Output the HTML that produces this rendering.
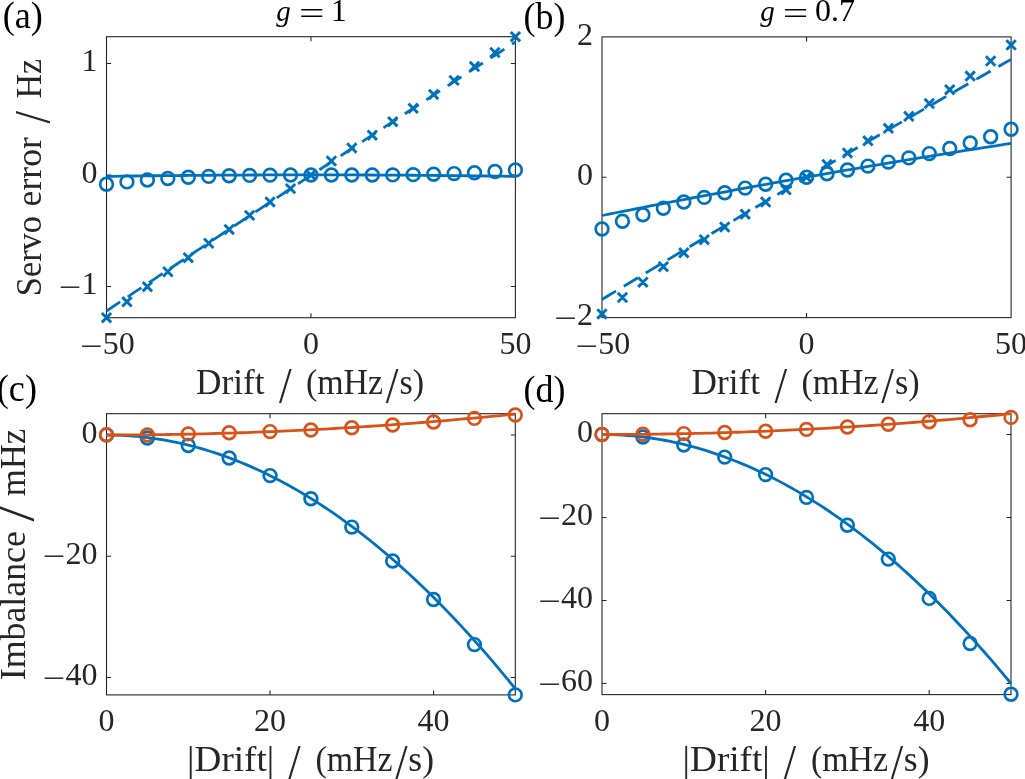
<!DOCTYPE html>
<html><head><meta charset="utf-8"><title>Servo error and imbalance vs drift</title>
<style>
html,body{margin:0;padding:0;background:#fff;width:1025px;height:779px;overflow:hidden}
svg{display:block}
text{font-family:"Liberation Serif","DejaVu Serif",serif;fill:#000}
.t{font-size:32px;fill:#262626}
.l{font-size:35px;fill:#262626}
.k{fill:#000}
.p{font-size:37.8px}
.g{font-size:29px;font-style:italic}
.e{font-size:32.5px}
</style></head><body>
<svg width="1025" height="779" viewBox="0 0 1025 779">
<rect width="1025" height="779" fill="#fff"/>
<rect x="106.5" y="36.7" width="408.9" height="281" fill="none" stroke="#262626" stroke-width="1.1"/>
<path d="M310.95,317.7V313.2M310.95,36.7V41.2M106.5,63.5H111M515.4,63.5H510.9M106.5,175H111M515.4,175H510.9M106.5,286.5H111M515.4,286.5H510.9" fill="none" stroke="#262626" stroke-width="1.1"/>
<rect x="602" y="36.9" width="409.1" height="280.7" fill="none" stroke="#262626" stroke-width="1.1"/>
<path d="M806.55,317.6V313.1M806.55,36.9V41.4M602,177.25H606.5M1011.1,177.25H1006.6" fill="none" stroke="#262626" stroke-width="1.1"/>
<rect x="106.5" y="413.7" width="408.8" height="281.2" fill="none" stroke="#262626" stroke-width="1.1"/>
<path d="M270.02,694.9V690.4M270.02,413.7V418.2M433.54,694.9V690.4M433.54,413.7V418.2M106.5,435H111M515.3,435H510.8M106.5,556.2H111M515.3,556.2H510.8M106.5,677.5H111M515.3,677.5H510.8" fill="none" stroke="#262626" stroke-width="1.1"/>
<rect x="602" y="413.7" width="409" height="280.9" fill="none" stroke="#262626" stroke-width="1.1"/>
<path d="M765.6,694.6V690.1M765.6,413.7V418.2M929.2,694.6V690.1M929.2,413.7V418.2M602,434.5H606.5M1011,434.5H1006.5M602,517.5H606.5M1011,517.5H1006.5M602,600.5H606.5M1011,600.5H1006.5M602,683.5H606.5M1011,683.5H1006.5" fill="none" stroke="#262626" stroke-width="1.1"/>
<path d="M106.5,176.4 L113.43,176.3 L120.36,176.2 L127.29,176.11 L134.22,176.02 L141.15,175.93 L148.08,175.85 L155.01,175.77 L161.94,175.7 L168.87,175.62 L175.81,175.56 L182.74,175.49 L189.67,175.43 L196.6,175.37 L203.53,175.31 L210.46,175.26 L217.39,175.21 L224.32,175.17 L231.25,175.13 L238.18,175.09 L245.11,175.06 L252.04,175.02 L258.97,175 L265.9,174.97 L272.83,174.95 L279.76,174.93 L286.69,174.92 L293.62,174.91 L300.55,174.9 L307.48,174.9 L314.42,174.9 L321.35,174.9 L328.28,174.91 L335.21,174.92 L342.14,174.93 L349.07,174.95 L356,174.97 L362.93,175 L369.86,175.02 L376.79,175.06 L383.72,175.09 L390.65,175.13 L397.58,175.17 L404.51,175.21 L411.44,175.26 L418.37,175.31 L425.3,175.37 L432.23,175.43 L439.16,175.49 L446.09,175.56 L453.03,175.62 L459.96,175.7 L466.89,175.77 L473.82,175.85 L480.75,175.93 L487.68,176.02 L494.61,176.11 L501.54,176.2 L508.47,176.3 L515.4,176.4" fill="none" stroke="#0072BD" stroke-width="2.8"/>
<path d="M106.5,311 L113.43,306.36 L120.36,301.72 L127.29,297.09 L134.22,292.46 L141.15,287.83 L148.08,283.21 L155.01,278.58 L161.94,273.96 L168.87,269.35 L175.81,264.73 L182.74,260.12 L189.67,255.51 L196.6,250.9 L203.53,246.3 L210.46,241.7 L217.39,237.1 L224.32,232.51 L231.25,227.91 L238.18,223.32 L245.11,218.74 L252.04,214.15 L258.97,209.57 L265.9,204.99 L272.83,200.42 L279.76,195.84 L286.69,191.27 L293.62,186.71 L300.55,182.14 L307.48,177.58 L314.42,173.02 L321.35,168.46 L328.28,163.91 L335.21,159.36 L342.14,154.81 L349.07,150.27 L356,145.72 L362.93,141.18 L369.86,136.65 L376.79,132.11 L383.72,127.58 L390.65,123.05 L397.58,118.52 L404.51,114 L411.44,109.48 L418.37,104.96 L425.3,100.45 L432.23,95.93 L439.16,91.42 L446.09,86.92 L453.03,82.41 L459.96,77.91 L466.89,73.41 L473.82,68.92 L480.75,64.42 L487.68,59.93 L494.61,55.45 L501.54,50.96 L508.47,46.48 L515.4,42" fill="none" stroke="#0072BD" stroke-width="2.8" stroke-dasharray="16.4,9.15"/>
<circle cx="106.5" cy="184.2" r="6.35" fill="none" stroke="#0072BD" stroke-width="2.7"/>
<circle cx="126.94" cy="181.88" r="6.35" fill="none" stroke="#0072BD" stroke-width="2.7"/>
<circle cx="147.39" cy="179.98" r="6.35" fill="none" stroke="#0072BD" stroke-width="2.7"/>
<circle cx="167.84" cy="178.46" r="6.35" fill="none" stroke="#0072BD" stroke-width="2.7"/>
<circle cx="188.28" cy="177.29" r="6.35" fill="none" stroke="#0072BD" stroke-width="2.7"/>
<circle cx="208.72" cy="176.41" r="6.35" fill="none" stroke="#0072BD" stroke-width="2.7"/>
<circle cx="229.17" cy="175.79" r="6.35" fill="none" stroke="#0072BD" stroke-width="2.7"/>
<circle cx="249.62" cy="175.38" r="6.35" fill="none" stroke="#0072BD" stroke-width="2.7"/>
<circle cx="270.06" cy="175.14" r="6.35" fill="none" stroke="#0072BD" stroke-width="2.7"/>
<circle cx="290.5" cy="175.03" r="6.35" fill="none" stroke="#0072BD" stroke-width="2.7"/>
<circle cx="310.95" cy="175" r="6.35" fill="none" stroke="#0072BD" stroke-width="2.7"/>
<circle cx="331.39" cy="175.01" r="6.35" fill="none" stroke="#0072BD" stroke-width="2.7"/>
<circle cx="351.84" cy="175.03" r="6.35" fill="none" stroke="#0072BD" stroke-width="2.7"/>
<circle cx="372.29" cy="175" r="6.35" fill="none" stroke="#0072BD" stroke-width="2.7"/>
<circle cx="392.73" cy="174.88" r="6.35" fill="none" stroke="#0072BD" stroke-width="2.7"/>
<circle cx="413.18" cy="174.64" r="6.35" fill="none" stroke="#0072BD" stroke-width="2.7"/>
<circle cx="433.62" cy="174.22" r="6.35" fill="none" stroke="#0072BD" stroke-width="2.7"/>
<circle cx="454.06" cy="173.59" r="6.35" fill="none" stroke="#0072BD" stroke-width="2.7"/>
<circle cx="474.51" cy="172.71" r="6.35" fill="none" stroke="#0072BD" stroke-width="2.7"/>
<circle cx="494.95" cy="171.53" r="6.35" fill="none" stroke="#0072BD" stroke-width="2.7"/>
<circle cx="515.4" cy="170" r="6.35" fill="none" stroke="#0072BD" stroke-width="2.7"/>
<path d="M101.8,313L111.2,322.4M101.8,322.4L111.2,313M122.24,297.1L131.64,306.5M122.24,306.5L131.64,297.1M142.69,282L152.09,291.4M142.69,291.4L152.09,282M163.14,267.1L172.53,276.5M163.14,276.5L172.53,267.1M183.58,253L192.98,262.4M183.58,262.4L192.98,253M204.03,238.6L213.42,248M204.03,248L213.42,238.6M224.47,224.7L233.87,234.1M224.47,234.1L233.87,224.7M244.92,210.7L254.31,220.1M244.92,220.1L254.31,210.7M265.36,197.2L274.76,206.6M265.36,206.6L274.76,197.2M285.81,183.9L295.2,193.3M285.81,193.3L295.2,183.9M306.25,170.3L315.65,179.7M306.25,179.7L315.65,170.3M326.69,156.3L336.09,165.7M326.69,165.7L336.09,156.3M347.14,143.3L356.54,152.7M347.14,152.7L356.54,143.3M367.59,130.5L376.99,139.9M367.59,139.9L376.99,130.5M388.03,117L397.43,126.4M388.03,126.4L397.43,117M408.48,103.6L417.88,113M408.48,113L417.88,103.6M428.92,89.7L438.32,99.1M428.92,99.1L438.32,89.7M449.37,75.7L458.76,85.1M449.37,85.1L458.76,75.7M469.81,61.8L479.21,71.2M469.81,71.2L479.21,61.8M490.25,47.8L499.65,57.2M490.25,57.2L499.65,47.8M510.7,32L520.1,41.4M510.7,41.4L520.1,32" fill="none" stroke="#0072BD" stroke-width="2.9"/>
<path d="M602,215.5 L608.93,214.12 L615.87,212.75 L622.8,211.38 L629.74,210.02 L636.67,208.66 L643.6,207.31 L650.54,205.96 L657.47,204.62 L664.41,203.29 L671.34,201.96 L678.27,200.63 L685.21,199.31 L692.14,198 L699.07,196.69 L706.01,195.39 L712.94,194.09 L719.88,192.8 L726.81,191.51 L733.74,190.23 L740.68,188.95 L747.61,187.68 L754.55,186.42 L761.48,185.16 L768.41,183.9 L775.35,182.65 L782.28,181.41 L789.22,180.17 L796.15,178.94 L803.08,177.71 L810.02,176.49 L816.95,175.27 L823.88,174.06 L830.82,172.86 L837.75,171.66 L844.69,170.46 L851.62,169.27 L858.55,168.09 L865.49,166.91 L872.42,165.73 L879.36,164.57 L886.29,163.4 L893.22,162.25 L900.16,161.09 L907.09,159.95 L914.03,158.81 L920.96,157.67 L927.89,156.54 L934.83,155.42 L941.76,154.3 L948.69,153.18 L955.63,152.07 L962.56,150.97 L969.5,149.87 L976.43,148.78 L983.36,147.69 L990.3,146.61 L997.23,145.54 L1004.17,144.47 L1011.1,143.4" fill="none" stroke="#0072BD" stroke-width="2.8"/>
<path d="M602,299.5 L608.93,295.29 L615.87,291.09 L622.8,286.9 L629.74,282.7 L636.67,278.52 L643.6,274.33 L650.54,270.16 L657.47,265.98 L664.41,261.81 L671.34,257.65 L678.27,253.49 L685.21,249.34 L692.14,245.19 L699.07,241.04 L706.01,236.9 L712.94,232.77 L719.88,228.64 L726.81,224.51 L733.74,220.39 L740.68,216.27 L747.61,212.16 L754.55,208.05 L761.48,203.95 L768.41,199.85 L775.35,195.76 L782.28,191.67 L789.22,187.59 L796.15,183.51 L803.08,179.44 L810.02,175.37 L816.95,171.3 L823.88,167.24 L830.82,163.19 L837.75,159.13 L844.69,155.09 L851.62,151.05 L858.55,147.01 L865.49,142.98 L872.42,138.95 L879.36,134.93 L886.29,130.91 L893.22,126.9 L900.16,122.89 L907.09,118.89 L914.03,114.89 L920.96,110.89 L927.89,106.91 L934.83,102.92 L941.76,98.94 L948.69,94.97 L955.63,90.99 L962.56,87.03 L969.5,83.07 L976.43,79.11 L983.36,75.16 L990.3,71.21 L997.23,67.27 L1004.17,63.33 L1011.1,59.4" fill="none" stroke="#0072BD" stroke-width="2.8" stroke-dasharray="16.4,9.15"/>
<circle cx="602" cy="229" r="6.35" fill="none" stroke="#0072BD" stroke-width="2.7"/>
<circle cx="622.46" cy="221.3" r="6.35" fill="none" stroke="#0072BD" stroke-width="2.7"/>
<circle cx="642.91" cy="214.7" r="6.35" fill="none" stroke="#0072BD" stroke-width="2.7"/>
<circle cx="663.37" cy="208.2" r="6.35" fill="none" stroke="#0072BD" stroke-width="2.7"/>
<circle cx="683.82" cy="202" r="6.35" fill="none" stroke="#0072BD" stroke-width="2.7"/>
<circle cx="704.27" cy="197.4" r="6.35" fill="none" stroke="#0072BD" stroke-width="2.7"/>
<circle cx="724.73" cy="192.8" r="6.35" fill="none" stroke="#0072BD" stroke-width="2.7"/>
<circle cx="745.18" cy="188.1" r="6.35" fill="none" stroke="#0072BD" stroke-width="2.7"/>
<circle cx="765.64" cy="184.2" r="6.35" fill="none" stroke="#0072BD" stroke-width="2.7"/>
<circle cx="786.1" cy="180.2" r="6.35" fill="none" stroke="#0072BD" stroke-width="2.7"/>
<circle cx="806.55" cy="177.2" r="6.35" fill="none" stroke="#0072BD" stroke-width="2.7"/>
<circle cx="827" cy="173.8" r="6.35" fill="none" stroke="#0072BD" stroke-width="2.7"/>
<circle cx="847.46" cy="170" r="6.35" fill="none" stroke="#0072BD" stroke-width="2.7"/>
<circle cx="867.91" cy="166.1" r="6.35" fill="none" stroke="#0072BD" stroke-width="2.7"/>
<circle cx="888.37" cy="162.1" r="6.35" fill="none" stroke="#0072BD" stroke-width="2.7"/>
<circle cx="908.83" cy="157.9" r="6.35" fill="none" stroke="#0072BD" stroke-width="2.7"/>
<circle cx="929.28" cy="153.6" r="6.35" fill="none" stroke="#0072BD" stroke-width="2.7"/>
<circle cx="949.74" cy="148.5" r="6.35" fill="none" stroke="#0072BD" stroke-width="2.7"/>
<circle cx="970.19" cy="143" r="6.35" fill="none" stroke="#0072BD" stroke-width="2.7"/>
<circle cx="990.64" cy="136.8" r="6.35" fill="none" stroke="#0072BD" stroke-width="2.7"/>
<circle cx="1011.1" cy="129.3" r="6.35" fill="none" stroke="#0072BD" stroke-width="2.7"/>
<path d="M597.3,309.2L606.7,318.6M597.3,318.6L606.7,309.2M617.75,292.8L627.16,302.2M617.75,302.2L627.16,292.8M638.21,277.5L647.61,286.9M638.21,286.9L647.61,277.5M658.66,262L668.07,271.4M658.66,271.4L668.07,262M679.12,248.1L688.52,257.5M679.12,257.5L688.52,248.1M699.57,235L708.98,244.4M699.57,244.4L708.98,235M720.03,222.3L729.43,231.7M720.03,231.7L729.43,222.3M740.48,209.5L749.88,218.9M740.48,218.9L749.88,209.5M760.94,197.3L770.34,206.7M760.94,206.7L770.34,197.3M781.39,185.1L790.8,194.5M781.39,194.5L790.8,185.1M801.85,172.5L811.25,181.9M801.85,181.9L811.25,172.5M822.3,159.8L831.71,169.2M822.3,169.2L831.71,159.8M842.76,148.2L852.16,157.6M842.76,157.6L852.16,148.2M863.21,136.1L872.62,145.5M863.21,145.5L872.62,136.1M883.67,123.6L893.07,133M883.67,133L893.07,123.6M904.12,111.6L913.53,121M904.12,121L913.53,111.6M924.58,98.8L933.98,108.2M924.58,108.2L933.98,98.8M945.03,85L954.44,94.4M945.03,94.4L954.44,85M965.49,71.4L974.89,80.8M965.49,80.8L974.89,71.4M985.94,56.3L995.35,65.7M985.94,65.7L995.35,56.3M1006.4,40.3L1015.8,49.7M1006.4,49.7L1015.8,40.3" fill="none" stroke="#0072BD" stroke-width="2.9"/>
<circle cx="106.5" cy="435" r="6.35" fill="none" stroke="#0072BD" stroke-width="2.7"/>
<circle cx="147.38" cy="438" r="6.35" fill="none" stroke="#0072BD" stroke-width="2.7"/>
<circle cx="188.26" cy="445.5" r="6.35" fill="none" stroke="#0072BD" stroke-width="2.7"/>
<circle cx="229.14" cy="458" r="6.35" fill="none" stroke="#0072BD" stroke-width="2.7"/>
<circle cx="270.02" cy="475.6" r="6.35" fill="none" stroke="#0072BD" stroke-width="2.7"/>
<circle cx="310.9" cy="498.7" r="6.35" fill="none" stroke="#0072BD" stroke-width="2.7"/>
<circle cx="351.78" cy="527.1" r="6.35" fill="none" stroke="#0072BD" stroke-width="2.7"/>
<circle cx="392.66" cy="561" r="6.35" fill="none" stroke="#0072BD" stroke-width="2.7"/>
<circle cx="433.54" cy="599.5" r="6.35" fill="none" stroke="#0072BD" stroke-width="2.7"/>
<circle cx="474.42" cy="644.6" r="6.35" fill="none" stroke="#0072BD" stroke-width="2.7"/>
<circle cx="515.3" cy="694.9" r="6.35" fill="none" stroke="#0072BD" stroke-width="2.7"/>
<circle cx="106.5" cy="434.8" r="6.35" fill="none" stroke="#D95319" stroke-width="2.7"/>
<circle cx="147.38" cy="435" r="6.35" fill="none" stroke="#D95319" stroke-width="2.7"/>
<circle cx="188.26" cy="433.9" r="6.35" fill="none" stroke="#D95319" stroke-width="2.7"/>
<circle cx="229.14" cy="432.8" r="6.35" fill="none" stroke="#D95319" stroke-width="2.7"/>
<circle cx="270.02" cy="431.6" r="6.35" fill="none" stroke="#D95319" stroke-width="2.7"/>
<circle cx="310.9" cy="430" r="6.35" fill="none" stroke="#D95319" stroke-width="2.7"/>
<circle cx="351.78" cy="427.7" r="6.35" fill="none" stroke="#D95319" stroke-width="2.7"/>
<circle cx="392.66" cy="425" r="6.35" fill="none" stroke="#D95319" stroke-width="2.7"/>
<circle cx="433.54" cy="422" r="6.35" fill="none" stroke="#D95319" stroke-width="2.7"/>
<circle cx="474.42" cy="418.4" r="6.35" fill="none" stroke="#D95319" stroke-width="2.7"/>
<circle cx="515.3" cy="415" r="6.35" fill="none" stroke="#D95319" stroke-width="2.7"/>
<path d="M106.5,435 L111.67,435.04 L116.85,435.16 L122.02,435.37 L127.2,435.65 L132.37,436.02 L137.55,436.46 L142.72,436.99 L147.9,437.6 L153.07,438.29 L158.25,439.07 L163.42,439.92 L168.6,440.85 L173.77,441.87 L178.95,442.97 L184.12,444.15 L189.29,445.41 L194.47,446.75 L199.64,448.17 L204.82,449.68 L209.99,451.26 L215.17,452.93 L220.34,454.68 L225.52,456.51 L230.69,458.42 L235.87,460.41 L241.04,462.49 L246.22,464.64 L251.39,466.88 L256.57,469.19 L261.74,471.59 L266.92,474.07 L272.09,476.63 L277.26,479.28 L282.44,482 L287.61,484.81 L292.79,487.69 L297.96,490.66 L303.14,493.71 L308.31,496.84 L313.49,500.05 L318.66,503.35 L323.84,506.72 L329.01,510.18 L334.19,513.71 L339.36,517.33 L344.54,521.03 L349.71,524.81 L354.88,528.68 L360.06,532.62 L365.23,536.65 L370.41,540.75 L375.58,544.94 L380.76,549.21 L385.93,553.56 L391.11,557.99 L396.28,562.51 L401.46,567.1 L406.63,571.78 L411.81,576.53 L416.98,581.37 L422.16,586.29 L427.33,591.29 L432.51,596.37 L437.68,601.54 L442.85,606.78 L448.03,612.11 L453.2,617.52 L458.38,623.01 L463.55,628.58 L468.73,634.23 L473.9,639.96 L479.08,645.77 L484.25,651.67 L489.43,657.65 L494.6,663.7 L499.78,669.84 L504.95,676.06 L510.13,682.37 L515.3,688.75" fill="none" stroke="#0072BD" stroke-width="2.8"/>
<path d="M106.5,435 L111.67,435 L116.85,434.99 L122.02,434.97 L127.2,434.95 L132.37,434.92 L137.55,434.88 L142.72,434.84 L147.9,434.78 L153.07,434.73 L158.25,434.66 L163.42,434.59 L168.6,434.52 L173.77,434.43 L178.95,434.34 L184.12,434.24 L189.29,434.14 L194.47,434.03 L199.64,433.91 L204.82,433.79 L209.99,433.65 L215.17,433.52 L220.34,433.37 L225.52,433.22 L230.69,433.06 L235.87,432.9 L241.04,432.73 L246.22,432.55 L251.39,432.36 L256.57,432.17 L261.74,431.97 L266.92,431.77 L272.09,431.55 L277.26,431.34 L282.44,431.11 L287.61,430.88 L292.79,430.64 L297.96,430.39 L303.14,430.14 L308.31,429.88 L313.49,429.62 L318.66,429.34 L323.84,429.06 L329.01,428.78 L334.19,428.49 L339.36,428.19 L344.54,427.88 L349.71,427.57 L354.88,427.25 L360.06,426.92 L365.23,426.59 L370.41,426.25 L375.58,425.9 L380.76,425.55 L385.93,425.19 L391.11,424.82 L396.28,424.45 L401.46,424.07 L406.63,423.68 L411.81,423.29 L416.98,422.89 L422.16,422.48 L427.33,422.07 L432.51,421.64 L437.68,421.22 L442.85,420.78 L448.03,420.34 L453.2,419.9 L458.38,419.44 L463.55,418.98 L468.73,418.51 L473.9,418.04 L479.08,417.56 L484.25,417.07 L489.43,416.57 L494.6,416.07 L499.78,415.56 L504.95,415.05 L510.13,414.53 L515.3,414" fill="none" stroke="#D95319" stroke-width="2.8"/>
<circle cx="602" cy="434.5" r="6.35" fill="none" stroke="#0072BD" stroke-width="2.7"/>
<circle cx="642.9" cy="437" r="6.35" fill="none" stroke="#0072BD" stroke-width="2.7"/>
<circle cx="683.8" cy="445" r="6.35" fill="none" stroke="#0072BD" stroke-width="2.7"/>
<circle cx="724.7" cy="457.1" r="6.35" fill="none" stroke="#0072BD" stroke-width="2.7"/>
<circle cx="765.6" cy="474.6" r="6.35" fill="none" stroke="#0072BD" stroke-width="2.7"/>
<circle cx="806.5" cy="497.4" r="6.35" fill="none" stroke="#0072BD" stroke-width="2.7"/>
<circle cx="847.4" cy="525.2" r="6.35" fill="none" stroke="#0072BD" stroke-width="2.7"/>
<circle cx="888.3" cy="559.1" r="6.35" fill="none" stroke="#0072BD" stroke-width="2.7"/>
<circle cx="929.2" cy="598.4" r="6.35" fill="none" stroke="#0072BD" stroke-width="2.7"/>
<circle cx="970.1" cy="643.5" r="6.35" fill="none" stroke="#0072BD" stroke-width="2.7"/>
<circle cx="1011" cy="694.3" r="6.35" fill="none" stroke="#0072BD" stroke-width="2.7"/>
<circle cx="602" cy="434.5" r="6.35" fill="none" stroke="#D95319" stroke-width="2.7"/>
<circle cx="642.9" cy="434.2" r="6.35" fill="none" stroke="#D95319" stroke-width="2.7"/>
<circle cx="683.8" cy="433.6" r="6.35" fill="none" stroke="#D95319" stroke-width="2.7"/>
<circle cx="724.7" cy="432.5" r="6.35" fill="none" stroke="#D95319" stroke-width="2.7"/>
<circle cx="765.6" cy="431.2" r="6.35" fill="none" stroke="#D95319" stroke-width="2.7"/>
<circle cx="806.5" cy="429.4" r="6.35" fill="none" stroke="#D95319" stroke-width="2.7"/>
<circle cx="847.4" cy="427" r="6.35" fill="none" stroke="#D95319" stroke-width="2.7"/>
<circle cx="888.3" cy="424.3" r="6.35" fill="none" stroke="#D95319" stroke-width="2.7"/>
<circle cx="929.2" cy="421.8" r="6.35" fill="none" stroke="#D95319" stroke-width="2.7"/>
<circle cx="970.1" cy="419.8" r="6.35" fill="none" stroke="#D95319" stroke-width="2.7"/>
<circle cx="1011" cy="417.4" r="6.35" fill="none" stroke="#D95319" stroke-width="2.7"/>
<path d="M602,434.5 L607.18,434.54 L612.35,434.66 L617.53,434.86 L622.71,435.14 L627.89,435.5 L633.06,435.94 L638.24,436.45 L643.42,437.05 L648.59,437.73 L653.77,438.49 L658.95,439.33 L664.13,440.25 L669.3,441.24 L674.48,442.32 L679.66,443.48 L684.84,444.71 L690.01,446.03 L695.19,447.43 L700.37,448.9 L705.54,450.46 L710.72,452.09 L715.9,453.81 L721.08,455.61 L726.25,457.48 L731.43,459.44 L736.61,461.47 L741.78,463.59 L746.96,465.78 L752.14,468.05 L757.32,470.41 L762.49,472.84 L767.67,475.35 L772.85,477.95 L778.03,480.62 L783.2,483.37 L788.38,486.21 L793.56,489.12 L798.73,492.11 L803.91,495.18 L809.09,498.34 L814.27,501.57 L819.44,504.88 L824.62,508.27 L829.8,511.74 L834.97,515.29 L840.15,518.92 L845.33,522.63 L850.51,526.42 L855.68,530.29 L860.86,534.24 L866.04,538.27 L871.22,542.38 L876.39,546.57 L881.57,550.84 L886.75,555.19 L891.92,559.62 L897.1,564.13 L902.28,568.72 L907.46,573.38 L912.63,578.13 L917.81,582.96 L922.99,587.87 L928.16,592.85 L933.34,597.92 L938.52,603.07 L943.7,608.29 L948.87,613.6 L954.05,618.99 L959.23,624.45 L964.41,630 L969.58,635.62 L974.76,641.33 L979.94,647.11 L985.11,652.98 L990.29,658.92 L995.47,664.95 L1000.65,671.05 L1005.82,677.24 L1011,683.5" fill="none" stroke="#0072BD" stroke-width="2.8"/>
<path d="M602,434.5 L607.18,434.5 L612.35,434.49 L617.53,434.47 L622.71,434.45 L627.89,434.42 L633.06,434.38 L638.24,434.34 L643.42,434.29 L648.59,434.23 L653.77,434.17 L658.95,434.1 L664.13,434.02 L669.3,433.94 L674.48,433.85 L679.66,433.75 L684.84,433.65 L690.01,433.54 L695.19,433.42 L700.37,433.3 L705.54,433.17 L710.72,433.03 L715.9,432.89 L721.08,432.74 L726.25,432.58 L731.43,432.42 L736.61,432.25 L741.78,432.07 L746.96,431.89 L752.14,431.7 L757.32,431.5 L762.49,431.3 L767.67,431.09 L772.85,430.87 L778.03,430.65 L783.2,430.42 L788.38,430.18 L793.56,429.94 L798.73,429.69 L803.91,429.43 L809.09,429.17 L814.27,428.9 L819.44,428.62 L824.62,428.34 L829.8,428.05 L834.97,427.75 L840.15,427.45 L845.33,427.14 L850.51,426.82 L855.68,426.5 L860.86,426.17 L866.04,425.83 L871.22,425.49 L876.39,425.14 L881.57,424.78 L886.75,424.42 L891.92,424.05 L897.1,423.67 L902.28,423.29 L907.46,422.9 L912.63,422.5 L917.81,422.1 L922.99,421.69 L928.16,421.27 L933.34,420.85 L938.52,420.42 L943.7,419.98 L948.87,419.54 L954.05,419.09 L959.23,418.63 L964.41,418.17 L969.58,417.7 L974.76,417.22 L979.94,416.74 L985.11,416.25 L990.29,415.75 L995.47,415.25 L1000.65,414.74 L1005.82,414.22 L1011,413.7" fill="none" stroke="#D95319" stroke-width="2.8"/>
<text x="97.5" y="71.1" text-anchor="end" class="t">1</text>
<text x="97.5" y="182.6" text-anchor="end" class="t">0</text>
<text x="97.5" y="294.1" text-anchor="end" class="t"><tspan font-size="30" dy="2.4" textLength="22.6" lengthAdjust="spacingAndGlyphs">−</tspan><tspan dy="-2.4">1</tspan></text>
<text x="107.5" y="353.9" text-anchor="middle" class="t"><tspan font-size="30" dy="2.4" textLength="22.6" lengthAdjust="spacingAndGlyphs">−</tspan><tspan dy="-2.4">50</tspan></text>
<text x="310.95" y="353.9" text-anchor="middle" class="t">0</text>
<text x="515.4" y="353.9" text-anchor="middle" class="t">50</text>
<text x="593" y="44.5" text-anchor="end" class="t">2</text>
<text x="593" y="184.85" text-anchor="end" class="t">0</text>
<text x="593" y="325.2" text-anchor="end" class="t"><tspan font-size="30" dy="2.4" textLength="22.6" lengthAdjust="spacingAndGlyphs">−</tspan><tspan dy="-2.4">2</tspan></text>
<text x="603" y="353.8" text-anchor="middle" class="t"><tspan font-size="30" dy="2.4" textLength="22.6" lengthAdjust="spacingAndGlyphs">−</tspan><tspan dy="-2.4">50</tspan></text>
<text x="806.55" y="353.8" text-anchor="middle" class="t">0</text>
<text x="1011.1" y="353.8" text-anchor="middle" class="t">50</text>
<text x="97.5" y="442.6" text-anchor="end" class="t">0</text>
<text x="97.5" y="563.8" text-anchor="end" class="t"><tspan font-size="30" dy="2.4" textLength="22.6" lengthAdjust="spacingAndGlyphs">−</tspan><tspan dy="-2.4">20</tspan></text>
<text x="97.5" y="685.1" text-anchor="end" class="t"><tspan font-size="30" dy="2.4" textLength="22.6" lengthAdjust="spacingAndGlyphs">−</tspan><tspan dy="-2.4">40</tspan></text>
<text x="106.5" y="731.1" text-anchor="middle" class="t">0</text>
<text x="270.02" y="731.1" text-anchor="middle" class="t">20</text>
<text x="433.54" y="731.1" text-anchor="middle" class="t">40</text>
<text x="593" y="442.1" text-anchor="end" class="t">0</text>
<text x="593" y="525.1" text-anchor="end" class="t"><tspan font-size="30" dy="2.4" textLength="22.6" lengthAdjust="spacingAndGlyphs">−</tspan><tspan dy="-2.4">20</tspan></text>
<text x="593" y="608.1" text-anchor="end" class="t"><tspan font-size="30" dy="2.4" textLength="22.6" lengthAdjust="spacingAndGlyphs">−</tspan><tspan dy="-2.4">40</tspan></text>
<text x="593" y="691.1" text-anchor="end" class="t"><tspan font-size="30" dy="2.4" textLength="22.6" lengthAdjust="spacingAndGlyphs">−</tspan><tspan dy="-2.4">60</tspan></text>
<text x="602" y="730.8" text-anchor="middle" class="t">0</text>
<text x="765.6" y="730.8" text-anchor="middle" class="t">20</text>
<text x="929.2" y="730.8" text-anchor="middle" class="t">40</text>
<text x="2.7" y="27.8" class="p" textLength="40.1" lengthAdjust="spacingAndGlyphs">(a)</text>
<text x="523.5" y="29.1" class="p" textLength="41.9" lengthAdjust="spacingAndGlyphs">(b)</text>
<text x="-3.2" y="401.3" class="p" textLength="40.1" lengthAdjust="spacingAndGlyphs">(c)</text>
<text x="523.5" y="402.1" class="p" textLength="41.9" lengthAdjust="spacingAndGlyphs">(d)</text>
<text x="276.2" y="20.6" class="g">g</text>
<text x="298.9" y="24.3" class="e" textLength="25.6" lengthAdjust="spacingAndGlyphs">=</text>
<text x="330.8" y="21" class="t k">1</text>
<text x="760.3" y="20.6" class="g">g</text>
<text x="782.8" y="24.3" class="e" textLength="25.6" lengthAdjust="spacingAndGlyphs">=</text>
<text x="814.9" y="21" class="t k">0.7</text>
<text class="l"><tspan x="196.14" y="393.7" textLength="68.39" lengthAdjust="spacingAndGlyphs">Drift</tspan> <tspan x="279" y="402" font-size="50" textLength="12.61" lengthAdjust="spacingAndGlyphs">/</tspan> <tspan x="305.94" y="393.7" textLength="77.17" lengthAdjust="spacingAndGlyphs">(mHz</tspan><tspan x="385.8" y="402" font-size="50" textLength="12.71" lengthAdjust="spacingAndGlyphs">/</tspan><tspan x="399.54" y="393.7" textLength="24.6" lengthAdjust="spacingAndGlyphs">s)</tspan></text>
<text class="l"><tspan x="187.13" y="770.5" textLength="87.14" lengthAdjust="spacingAndGlyphs">|Drift|</tspan> <tspan x="288" y="778.8" font-size="50" textLength="12.61" lengthAdjust="spacingAndGlyphs">/</tspan> <tspan x="315.44" y="770.5" textLength="77.17" lengthAdjust="spacingAndGlyphs">(mHz</tspan><tspan x="395.1" y="778.8" font-size="50" textLength="12.61" lengthAdjust="spacingAndGlyphs">/</tspan><tspan x="408.38" y="770.5" textLength="25.62" lengthAdjust="spacingAndGlyphs">s)</tspan></text>
<text class="l"><tspan x="691.64" y="393.7" textLength="68.39" lengthAdjust="spacingAndGlyphs">Drift</tspan> <tspan x="774.5" y="402" font-size="50" textLength="12.61" lengthAdjust="spacingAndGlyphs">/</tspan> <tspan x="801.44" y="393.7" textLength="77.17" lengthAdjust="spacingAndGlyphs">(mHz</tspan><tspan x="881.3" y="402" font-size="50" textLength="12.71" lengthAdjust="spacingAndGlyphs">/</tspan><tspan x="895.04" y="393.7" textLength="24.6" lengthAdjust="spacingAndGlyphs">s)</tspan></text>
<text class="l"><tspan x="682.63" y="770.5" textLength="87.14" lengthAdjust="spacingAndGlyphs">|Drift|</tspan> <tspan x="783.5" y="778.8" font-size="50" textLength="12.61" lengthAdjust="spacingAndGlyphs">/</tspan> <tspan x="810.94" y="770.5" textLength="77.17" lengthAdjust="spacingAndGlyphs">(mHz</tspan><tspan x="890.6" y="778.8" font-size="50" textLength="12.61" lengthAdjust="spacingAndGlyphs">/</tspan><tspan x="903.88" y="770.5" textLength="25.62" lengthAdjust="spacingAndGlyphs">s)</tspan></text>
<text class="l" transform="translate(40.6,0) rotate(-90)"><tspan x="-296.21" y="0" textLength="80.19" lengthAdjust="spacingAndGlyphs">Servo</tspan> <tspan x="-206.43" y="0" textLength="69.29" lengthAdjust="spacingAndGlyphs">error</tspan> <tspan x="-123.4" y="8.3" font-size="50" textLength="12.41" lengthAdjust="spacingAndGlyphs">/</tspan> <tspan x="-98.52" y="0" textLength="39.5" lengthAdjust="spacingAndGlyphs">Hz</tspan></text>
<text class="l" transform="translate(25.1,0) rotate(-90)"><tspan x="-680.23" y="0" textLength="149.05" lengthAdjust="spacingAndGlyphs">Imbalance</tspan> <tspan x="-521.6" y="8.3" font-size="50" textLength="15.19" lengthAdjust="spacingAndGlyphs">/</tspan> <tspan x="-496.19" y="0" textLength="67.47" lengthAdjust="spacingAndGlyphs">mHz</tspan></text>
</svg>
</body></html>
